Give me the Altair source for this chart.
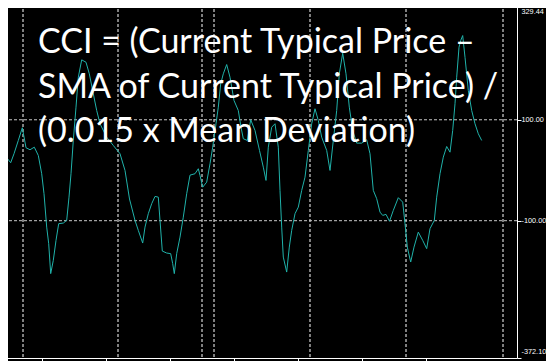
import altair as alt
import pandas as pd

# CCI indicator values (x = bar position along the time axis)
bar_pos = [0, 2.7, 6.7, 10.7, 14, 18.3, 22.3, 26, 30, 34.3, 38.3, 41.7, 44, 46.7, 48.7,
           50.7, 53.3, 56, 58.7, 63.3, 66.7, 69, 71, 73.3, 76, 78.3, 81.7, 86, 89.3,
           93.3, 96.7, 100, 106.7, 113.3, 120, 125, 129.5, 135, 138.3, 142.7, 145,
           148.3, 151.7, 155, 158.3, 160, 162.3, 166.7, 170.7, 172.7, 174.3, 176.7,
           180, 183.3, 186.7, 190, 195, 198.3, 200, 202.7, 206.7, 210, 212.7, 216,
           218.3, 220.7, 223.3, 226.7, 230, 234, 238.3, 241, 243.3, 247.3, 250.7, 255,
           259.5, 263.3, 266, 268.3, 271.7, 275, 278.3, 280, 281.7, 283.3, 286.7,
           289.3, 291.7, 295, 298.3, 301.7, 305, 308.3, 311.7, 315, 318.3, 321.7,
           326.7, 330, 333.3, 336.7, 339.3, 342.7, 346, 349.3, 352.7, 356.7, 361.7,
           366.7, 370, 373.3, 376.7, 380, 382.7, 386, 389.5, 393.3, 398.3, 402.7, 405,
           407.3, 410.7, 414, 418.3, 422.7, 426.7, 430, 434.3, 436.7, 440, 443.3,
           446.7, 450, 452.7, 455, 456.7, 459, 460.7, 462.7, 465, 468.3, 471.7, 475,
           478.3, 481.7]
cci = [-33.5, 13.5, 24.8, 14.9, 32.7, 59, 84.2, 44.6, 40.6, 45.7, 29.3, -6.9, -46.5,
       -112.7, -145.5, -204.9, -178.6, -139, -105.9, -104.7, -99.4, -53.3, -6.9, 59,
       125, 184.3, 218.8, 214, 191.1, 151.5, 118.4, 92.1, 65.5, 49.1, 32.7, -0.4, -57,
       -99.4, -119.2, -144.3, -112.7, -86.1, -66.3, -51.9, -53.3, -99.4, -160.2,
       -164.1, -165.3, -185.1, -204.9, -165.3, -132.5, -92.9, -46.5, -9.7, -6.9, 3,
       -10.3, -33.5, -23.6, 12.9, 45.7, 92.1, 125, 171.3, 191.1, 209.5, 184.3, 138.2,
       118.4, 85.3, 62.4, 59, 100, 78.8, 39.2, 6.1, -20.2, 45.7, 85.3, 92.1, 45.7, -40,
       -112.7, -172.1, -201.8, -152.3, -119.2, -86.1, -73.1, -40, -13.7, 39.2, 92.1,
       121.8, 98.6, 65.5, 39.2, -0.4, 59, 118.4, 191.1, 231.9, 191.1, 125, 78.8, 53.7,
       53.7, 60.4, 32.7, -40, -56.4, -83, -89.5, -87.5, -101, -79.6, -54.4, -63.2,
       -105.9, -152.3, -181.9, -152.3, -122.6, -139, -155.4, -115.8, -99.4, -53.3,
       -6.9, 26, 47.1, 35.8, 78.8, 131.7, 184.3, 243.7, 257, 266.9, 223.9, 158, 118.4,
       92.1, 72.3, 59]

levels = [100, -100]
separators = [23, 118, 202, 214, 310, 406, 503]
time_ticks = [42, 106, 170, 234, 298, 362, 426]
y_ticks = [329.44, 100, -100, -372.10]
y_domain = [-372.10, 329.44]
x_domain = [0, 517]

formula_lines = ["CCI = (Current Typical Price –",
                 "SMA of Current Typical Price) /",
                 "(0.015 x Mean Deviation)"]
formula_x = [38, 38, 38]
formula_y = [231.7, 142.5, 56.5]

df = pd.DataFrame({"pos": bar_pos, "cci": cci})
df_lv = pd.DataFrame({"pos": [x_domain[0]] * len(levels), "cci": levels})
df_sep = pd.DataFrame({"pos": separators})
df_txt = pd.DataFrame({"pos": formula_x, "cci": formula_y, "label": formula_lines})

xs = alt.Scale(domain=x_domain, nice=False, zero=False)
ys = alt.Scale(domain=y_domain, nice=False, zero=False)

x_axis = alt.Axis(orient="bottom", values=time_ticks, labels=False, ticks=True,
                  tickSize=4, tickColor="white", tickWidth=1, domain=False,
                  grid=False, title=None)
y_axis = alt.Axis(orient="right", values=y_ticks, grid=False, domain=False,
                  ticks=True, tickSize=4, tickColor="white", tickWidth=1,
                  labelColor="white", labelFont="Liberation Sans",
                  labelFontSize=7.3, labelPadding=0, labelFlush=True, labelFlushOffset=-3,
                  labelExpr="replace(format(datum.value, '.2f'), '\u2212', '-')",
                  title=None)

X = alt.X("pos:Q", scale=xs, axis=x_axis, title=None)
Y = alt.Y("cci:Q", scale=ys, axis=y_axis, title=None)

line_layer = alt.Chart(df).mark_line(color="#20B2AA", strokeWidth=1).encode(
    x=X, y=Y, order=alt.Order("pos:Q")
)
sep_layer = alt.Chart(df_sep).mark_rule(color="white", strokeWidth=1, strokeDash=[3, 2]).encode(
    x=X
)
lvl_layer = alt.Chart(df_lv).mark_rule(color="#c8c8c8", strokeWidth=1, strokeDash=[3, 2]).encode(
    y=Y
)
txt_layer = alt.Chart(df_txt).mark_text(
    align="left", baseline="alphabetic", font="Lato", fontSize=34, color="white"
).encode(
    x=X, y=Y, text="label:N"
)

chart = alt.layer(sep_layer, lvl_layer, line_layer, txt_layer).properties(
    width=517, height=354,
    autosize=alt.AutoSizeParams(type="none"),
    padding={"left": -8, "top": -4, "right": 29, "bottom": 7},
    background="black"
).configure_view(stroke="white", strokeWidth=1, fill="black")

chart.save("out.html", embed_options={"renderer": "svg", "actions": False})
